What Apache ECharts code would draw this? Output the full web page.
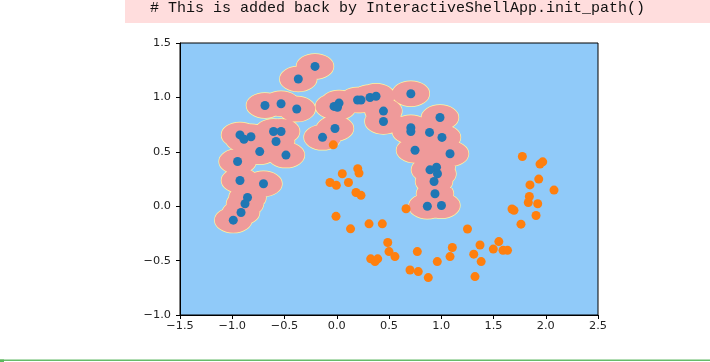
<!DOCTYPE html>
<html>
<head>
<meta charset="utf-8">
<script src="https://cdn.jsdelivr.net/npm/echarts@6/dist/echarts.min.js"></script>
<style>
html,body{margin:0;padding:0;background:#fff;}
#c{width:710px;height:362px;}
</style>
</head>
<body>
<div id="c"></div>
<script>
// class 0 (blue) points
var blueX = [-0.368,-0.208,-0.687,-0.533,-0.383,-0.926,-0.888,-0.821,-0.605,-0.533,-0.581,-0.737,-0.486,-0.949,-0.926,-0.701,-0.854,-0.878,-0.916,-0.990,
             -0.026,0.022,0.007,0.199,0.232,0.318,0.376,0.709,0.447,0.447,-0.017,-0.136,0.709,0.709,0.988,0.888,1.007,0.749,1.084,0.955,0.892,0.964,0.931,0.940,0.867,1.002];
var blueY = [1.169,1.285,0.926,0.942,0.893,0.655,0.615,0.638,0.687,0.687,0.595,0.502,0.470,0.411,0.236,0.206,0.080,0.022,-0.058,-0.128,
             0.917,0.948,0.909,0.976,0.976,0.999,1.011,1.034,0.874,0.779,0.714,0.633,0.721,0.687,0.815,0.678,0.632,0.514,0.482,0.359,0.334,0.298,0.227,0.114,0.000,0.006];
// class 1 (orange) points
var orangeX = [-0.033,0.053,-0.065,-0.004,0.112,0.201,0.213,0.184,0.232,-0.007,0.132,0.309,0.436,0.663,0.488,0.500,0.557,0.325,0.392,0.366,
               0.771,0.701,0.780,0.876,0.962,1.084,1.106,1.251,1.371,1.311,1.382,1.323,1.498,1.551,1.591,1.634,1.677,1.696,1.776,1.945,
               1.971,1.849,1.933,2.079,1.843,1.833,1.923,1.907,1.763];
var orangeY = [0.564,0.298,0.218,0.192,0.218,0.345,0.304,0.126,0.100,-0.093,-0.208,-0.162,-0.162,-0.023,-0.334,-0.417,-0.463,-0.484,-0.484,-0.509,
               -0.417,-0.586,-0.601,-0.656,-0.509,-0.463,-0.380,-0.210,-0.357,-0.441,-0.509,-0.647,-0.394,-0.325,-0.406,-0.406,-0.026,-0.038,0.457,0.387,
               0.408,0.196,0.249,0.148,0.089,0.034,0.022,-0.086,-0.165];
var xTicks = [-1.5,-1.0,-0.5,0.0,0.5,1.0,1.5,2.0,2.5];
var yTicks = [-1.0,-0.5,0.0,0.5,1.0,1.5];
var warningText = '# This is added back by InteractiveShellApp.init_path()';

function pairs(xs, ys){ return xs.map(function(x,i){ return [x, ys[i]]; }); }
var blueData = pairs(blueX, blueY);
var orangeData = pairs(orangeX, orangeY);
function fmt(v){ return v.toFixed(1).replace('-', '\u2212'); }

// decision region of class 0: one filled path = union of ellipses around class-0 points
function region(rx, ry, color){
  return function(params, api){
    var d = '';
    for (var i = 0; i < blueData.length; i++) {
      var p = api.coord(blueData[i]);
      var x0 = (p[0] - rx).toFixed(2), x1 = (p[0] + rx).toFixed(2), y = p[1].toFixed(2);
      d += 'M' + x0 + ',' + y + ' A' + rx + ',' + ry + ' 0 1,1 ' + x1 + ',' + y +
           ' A' + rx + ',' + ry + ' 0 1,1 ' + x0 + ',' + y + ' Z ';
    }
    return {type:'path', shape:{pathData:d}, style:{fill:color, lineWidth:0, opacity:1}};
  };
}

var chart = echarts.init(document.getElementById('c'), null, {renderer:'canvas'});
chart.setOption({
  animation: false,
  backgroundColor: '#fff',
  grid: {left:180, top:43, width:418, height:272, show:true, backgroundColor:'#90CAF9', borderColor:'#000', borderWidth:1, containLabel:false, outerBoundsMode:'none'},
  xAxis: {
    type:'value', min:xTicks[0], max:xTicks[xTicks.length-1], interval:0.5,
    axisLine:{show:true, onZero:false, lineStyle:{color:'#000', width:1}},
    axisTick:{show:true, inside:false, length:4, lineStyle:{color:'#000'}},
    axisLabel:{formatter:fmt, color:'#222', fontFamily:'DejaVu Sans', fontSize:11.3, margin:6, hideOverlap:false},
    splitLine:{show:false}
  },
  yAxis: {
    type:'value', min:yTicks[0], max:yTicks[yTicks.length-1], interval:0.5,
    axisLine:{show:true, onZero:false, lineStyle:{color:'#000', width:1}},
    axisTick:{show:true, inside:false, length:4, lineStyle:{color:'#000'}},
    axisLabel:{formatter:fmt, color:'#222', fontFamily:'DejaVu Sans', fontSize:11.3, margin:9, hideOverlap:false},
    splitLine:{show:false}
  },
  series: [
    {type:'custom', data:[[0,0]], renderItem:region(19.2, 13.2, '#FFF59D'), silent:true, clip:false, z:1},
    {type:'custom', data:[[0,0]], renderItem:region(18.5, 12.5, '#EF9A9A'), silent:true, clip:false, z:2},
    {type:'scatter', data:blueData, symbol:'circle', symbolSize:9, itemStyle:{color:'#1f77b4', opacity:1}, z:3},
    {type:'scatter', data:orangeData, symbol:'circle', symbolSize:9, itemStyle:{color:'#ff7f0e', opacity:1}, z:4}
  ],
  graphic: [
    {type:'rect', shape:{x:125, y:0, width:585, height:23}, style:{fill:'#ffdddd'}, z:0},
    {type:'text', style:{x:150, y:8, text:warningText, fontFamily:'Liberation Mono', fontSize:15, fill:'#111', textVerticalAlign:'middle', verticalAlign:'middle'}, z:1},
    {type:'rect', shape:{x:0, y:359.5, width:710, height:1.5}, style:{fill:'#66BB6A'}, z:0},
    {type:'rect', shape:{x:0, y:359.5, width:4, height:3}, style:{fill:'#5cb85c'}, z:0}
  ]
});
</script>
</body>
</html>
